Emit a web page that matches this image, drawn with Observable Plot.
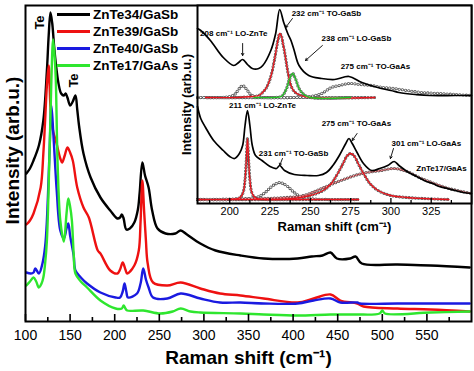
<!DOCTYPE html>
<html><head><meta charset="utf-8">
<script src="https://cdn.jsdelivr.net/npm/d3@7"></script>
<script src="https://cdn.jsdelivr.net/npm/@observablehq/plot@0.6"></script>
<style>
body{margin:0;background:#fff;}
#wrap{position:relative;width:474px;height:371px;font-family:"Liberation Sans",Arial,sans-serif;}
#wrap svg{position:absolute;left:0;top:0;}
#legend{position:absolute;left:57px;top:6px;font-weight:bold;font-size:13.5px;line-height:17px;color:#000;}
#legend .sw{display:inline-block;width:33px;height:3.5px;vertical-align:middle;margin-right:3px;position:relative;top:-1px;}
</style></head><body><div id="wrap"></div>
<script>
// ---- main panel data (Raman shift cm^-1, intensity arb.u.) ----
const seriesNames = ["ZnTe34/GaSb", "ZnTe39/GaSb", "ZnTe40/GaSb", "ZnTe17/GaAs"];
const seriesColors = ["#000000", "#ee1111", "#1a1ae0", "#2ee62e"];
const zn34 = [[101,148],[105,153],[109,161],[115,176],[120,201],[124,251],[126,286],[128,309],[130,298],[132,276],[134,258],[137,238],[140,228],[143,226],[145,228],[147,224],[150,216],[153,220],[156,226],[158,212],[160,196],[165,168],[173,144],[184,124],[195,111],[203,103],[206,104],[208,107],[210,103],[213,92],[217,93],[222,99],[226,112],[228,129],[231,159],[234,146],[238,134],[242,111],[248,93],[257,88],[268,88],[274,91],[281,87],[296,78],[313,71],[341,66],[367,63],[405,63],[421,65],[433,66],[442,69],[449,63],[464,63],[470,65],[477,58],[517,57],[554,56],[598,54]];
const zn39 = [[101,97],[105,101],[109,108],[117,134],[120,168],[122,201],[124,236],[126,256],[128,215],[131,190],[134,181],[139,163],[141,159],[144,166],[147,174],[150,169],[153,161],[158,134],[165,114],[171,104],[181,71],[184,68],[195,51],[203,48],[206,52],[209,59],[212,52],[214,48],[222,56],[227,71],[229,100],[231,141],[233,110],[235,81],[237,58],[243,39],[259,36],[274,39],[296,33],[318,28],[341,26],[367,23],[405,19],[423,23],[442,27],[453,21],[472,18],[479,15],[517,13],[554,12],[598,10]];
const zn40 = [[101,49],[106,48],[109,49],[111,53],[115,48],[119,58],[122,75],[124,101],[127,171],[129,216],[131,191],[133,160],[135,131],[139,91],[143,83],[146,93],[148,98],[150,86],[154,66],[156,51],[162,44],[169,38],[184,29],[201,24],[206,24],[209,30],[211,38],[213,30],[215,24],[225,28],[229,38],[232,53],[235,42],[238,34],[243,24],[259,23],[274,28],[296,23],[318,19],[341,19],[367,18],[405,18],[423,21],[442,23],[453,19],[472,19],[475,18],[517,18],[554,18],[598,18]];
const zn17 = [[101,36],[105,40],[109,44],[112,40],[115,34],[118,38],[120,44],[122,58],[124,81],[127,171],[129,241],[131,282],[133,260],[134,241],[136,158],[139,101],[143,80],[146,108],[148,123],[150,115],[152,101],[154,68],[156,48],[162,40],[169,34],[184,21],[201,13],[208,13],[210,16],[212,13],[214,11],[232,11],[251,8],[265,10],[274,13],[285,10],[296,9],[341,8],[367,7],[405,6],[442,7],[470,7],[497,8],[500,11],[503,8],[554,9],[598,10]];
const mainMajor = [100,150,200,250,300,350,400,450,500,550];
const mainMinor = [125,175,225,275,325,375,425,475,525,575];
const teLabels = [{label:"Te", x:116.5, y:299}, {label:"Te", x:153.8, y:241}];
const xTitle = "Raman shift (cm\u207B\u00B9)";
const yTitle = "Intensity (arb.u.)";

// ---- inset data ----
const insetTop = [[180,175],[182,173],[188,163],[196,146],[202.5,138],[205.5,141],[208,144],[211,139],[214,135],[218,135],[220.5,138],[225.5,153],[228.5,170],[231,194],[233.5,181],[236,170],[238,163],[240,153],[243,138],[249,128],[257,125],[265,124],[274,127],[282,121],[294,115],[300,113],[305,111],[309,110],[315,109],[324,108],[340,108],[350,108]];
const insetBottom = [[180,97],[182,85],[185,76],[190,63],[196,53],[200,47],[203,45],[206,50],[208,58],[209.5,78],[211,93],[212.5,78],[214,58],[216,48],[220,43],[225,37],[229,35],[231,38],[234,33],[240,29],[248,28],[255,28],[260,31],[264,38],[268,48],[272,60],[274,65],[276,60],[279,51],[283,40],[288,33],[293,35],[298,38],[302,42],[305,38],[310,32],[316,27],[322,22],[326,20],[330,17],[335,15],[340,13],[345,11],[350,10]];
const topBase = 106, bottomBase = 4;
const fitTop208 = [[180,0],[195,0],[200,1],[203,3],[205,7],[207,11],[208,12],[209,11],[211,7],[213,3],[216,1],[222,0],[240,0],[260,0],[285,0]];
const fitTop232 = [[185,0],[205,0],[214,1],[218,2],[222,8],[224,14],[226,24],[228,40],[230,58],[231,64],[232,62],[233,54],[234,46],[235,36],[236,26],[237,18],[238,12],[240,6],[244,2],[250,0],[290,0]];
const fitTop238 = [[215,0],[228,0],[232,1],[235,8],[237,18],[239,24],[241,18],[243,9],[246,3],[250,0],[275,0]];
const fitTop275 = [[182,0],[240,0],[250,1],[257,4],[263,10],[268,12],[274,14],[281,13],[288,12],[295,10],[302,9],[310,7],[319,5],[330,4],[340,3],[350,2]];
const fitBot211 = [[180,0],[200,0],[205,1],[207,3],[208.5,8],[209.5,20],[210.3,40],[211,61],[211.7,40],[212.5,20],[213.5,8],[215,3],[217,1],[222,0],[250,0],[280,0]];
const fitBot231 = [[180,0],[205,0],[212,1],[218,3],[222,7],[226,13],[229,16],[231,17],[233,16],[236,13],[240,7],[244,3],[250,1],[260,0],[280,0]];
const fitBot275 = [[200,0],[240,1],[250,4],[258,9],[263,16],[267,26],[270,35],[273,44],[275,46],[277,44],[280,35],[283,26],[287,16],[292,9],[300,4],[310,2],[320,1],[336,0]];
const fitBot301 = [[180,0],[220,1],[235,2],[246,4],[257,11],[269,19],[282,26],[294,29],[302,31],[310,28],[319,21],[327,16],[336,11],[344,8],[350,6]];
const insetMajor = [200,225,250,275,300,325];
const insetMinor = [187.5,212.5,237.5,262.5,287.5,312.5,337.5];
const insetLabels = [
  {t:"208 cm\u207B\u00B9 LO-ZnTe", x:202.5, y:170},
  {t:"232 cm\u207B\u00B9 TO-GaSb", x:260, y:190},
  {t:"238 cm\u207B\u00B9 LO-GaSb", x:278.6, y:165},
  {t:"275 cm\u207B\u00B9 TO-GaAs", x:290.4, y:137},
  {t:"211 cm\u207B\u00B9 LO-ZnTe", x:220.3, y:98},
  {t:"275 cm\u207B\u00B9 TO-GaAs", x:278.6, y:80},
  {t:"231 cm\u207B\u00B9 TO-GaSb", x:239.6, y:50},
  {t:"301 cm\u207B\u00B9 LO-GaAs", x:322, y:60},
  {t:"ZnTe17/GaAs", x:331.4, y:35}
];
const insetArrows = [
  {x1:208, y1:160, x2:208, y2:148},
  {x1:238.9, y1:185, x2:234.7, y2:176},
  {x1:257.5, y1:158, x2:247, y2:143},
  {x1:279, y1:70, x2:276, y2:63},
  {x1:232.7, y1:45, x2:231, y2:38},
  {x1:301.6, y1:55, x2:299.7, y2:45}
];

const FONT = '"Liberation Sans", Arial, sans-serif';
const xy = {x: d => d[0], y: d => d[1]};
const mainSeries = [zn34, zn39, zn40, zn17];

const main = Plot.plot({
  width: 474, height: 371, marginTop: 5, marginBottom: 50, marginLeft: 25, marginRight: 3,
  style: {fontFamily: FONT, background: "white", color: "black"},
  x: {domain: [100, 600]},
  y: {domain: [0, 316], axis: null},
  marks: [
    ...mainSeries.map((s, i) => Plot.line(s, {...xy, stroke: seriesColors[i], strokeWidth: 2.4, curve: "catmull-rom"})),
    Plot.text(teLabels, {x: "x", y: "y", text: "label", rotate: -90, fontSize: 13, fontWeight: "bold"}),
    Plot.axisX({ticks: mainMajor, tickSize: 0, tickPadding: 9, fontSize: 14, label: null}),
    Plot.tickX(mainMajor, {x: d => d, insetTop: 309, strokeWidth: 1.6, stroke: "black"}),
    Plot.tickX(mainMinor, {x: d => d, insetTop: 312, strokeWidth: 1.6, stroke: "black"}),
    Plot.text([xTitle], {text: d => d, frameAnchor: "bottom", textAnchor: "middle", lineAnchor: "middle", dy: 36, fontSize: 19, fontWeight: "bold"}),
    Plot.text([yTitle], {text: d => d, frameAnchor: "left", textAnchor: "middle", lineAnchor: "middle", dx: -13, dy: -13, rotate: -90, fontSize: 19, fontWeight: "bold"}),
    Plot.frame({stroke: "black", strokeWidth: 2})
  ]
});

const fitsGray = [
  {d: fitTop208, b: topBase}, {d: fitTop232, b: topBase}, {d: fitTop238, b: topBase}, {d: fitTop275, b: topBase},
  {d: fitBot211, b: bottomBase}, {d: fitBot231, b: bottomBase}, {d: fitBot275, b: bottomBase}, {d: fitBot301, b: bottomBase}
];
const fitsColored = [
  {d: fitTop232, b: topBase, c: "#e8141c", o: 1},
  {d: fitTop238, b: topBase, c: "#22c022", o: 1},
  {d: fitBot211, b: bottomBase, c: "#e8141c", o: 1},
  {d: fitBot275, b: bottomBase, c: "#e8141c", o: 1},
  {d: fitBot301, b: bottomBase, c: "#e8141c", o: 0.45}
];

const inset = Plot.plot({
  width: 299, height: 245, marginLeft: 22, marginTop: 5, marginRight: 3, marginBottom: 42,
  style: {fontFamily: FONT, background: "transparent", color: "black", overflow: "visible"},
  x: {domain: [180, 350]},
  y: {domain: [0, 198], axis: null},
  marks: [
    Plot.frame({fill: "white", stroke: "none"}),
    ...fitsGray.map(f => Plot.line(f.d, {x: d => d[0], y: d => f.b + d[1], stroke: "#505050", strokeWidth: 3.2, strokeDasharray: "0,3.2", strokeLinecap: "round", curve: "catmull-rom"})),
    ...fitsGray.map(f => Plot.line(f.d, {x: d => d[0], y: d => f.b + d[1], stroke: "white", strokeWidth: 1.6, strokeDasharray: "0,3.2", strokeLinecap: "round", curve: "catmull-rom"})),
    ...fitsColored.map(f => Plot.line(f.d, {x: d => d[0], y: d => f.b + d[1], stroke: f.c, strokeOpacity: f.o, strokeWidth: 1.3, curve: "catmull-rom"})),
    Plot.line(insetTop, {...xy, stroke: "black", strokeWidth: 1.7, curve: "catmull-rom"}),
    Plot.line(insetBottom, {...xy, stroke: "black", strokeWidth: 1.7, curve: "catmull-rom"}),
    Plot.text(insetLabels, {x: "x", y: "y", text: "t", fontSize: 8, fontWeight: "bold"}),
    Plot.arrow(insetArrows, {x1: "x1", y1: "y1", x2: "x2", y2: "y2", headLength: 4, strokeWidth: 0.9, stroke: "black"}),
    Plot.axisX({ticks: insetMajor, tickSize: 0, tickPadding: 4, fontSize: 11, label: null}),
    Plot.tickX(insetMajor, {x: d => d, insetTop: 193, strokeWidth: 1.3, stroke: "black"}),
    Plot.tickX(insetMinor, {x: d => d, insetTop: 195, strokeWidth: 1.3, stroke: "black"}),
    Plot.text([xTitle], {text: d => d, frameAnchor: "bottom", textAnchor: "middle", lineAnchor: "middle", dy: 23, fontSize: 13, fontWeight: "bold"}),
    Plot.text([yTitle], {text: d => d, frameAnchor: "left", textAnchor: "middle", lineAnchor: "middle", dx: -11, rotate: -90, fontSize: 13, fontWeight: "bold"}),
    Plot.frame({stroke: "black", strokeWidth: 2})
  ]
});
inset.style.left = "175px";
inset.style.top = "0px";

const wrap = document.getElementById("wrap");
wrap.appendChild(main);
wrap.appendChild(inset);

const legend = document.createElement("div");
legend.id = "legend";
seriesNames.forEach((n, i) => {
  const row = document.createElement("div");
  const sw = document.createElement("span");
  sw.className = "sw";
  sw.style.background = seriesColors[i];
  row.appendChild(sw);
  row.appendChild(document.createTextNode(n));
  legend.appendChild(row);
});
wrap.appendChild(legend);
</script></body></html>
